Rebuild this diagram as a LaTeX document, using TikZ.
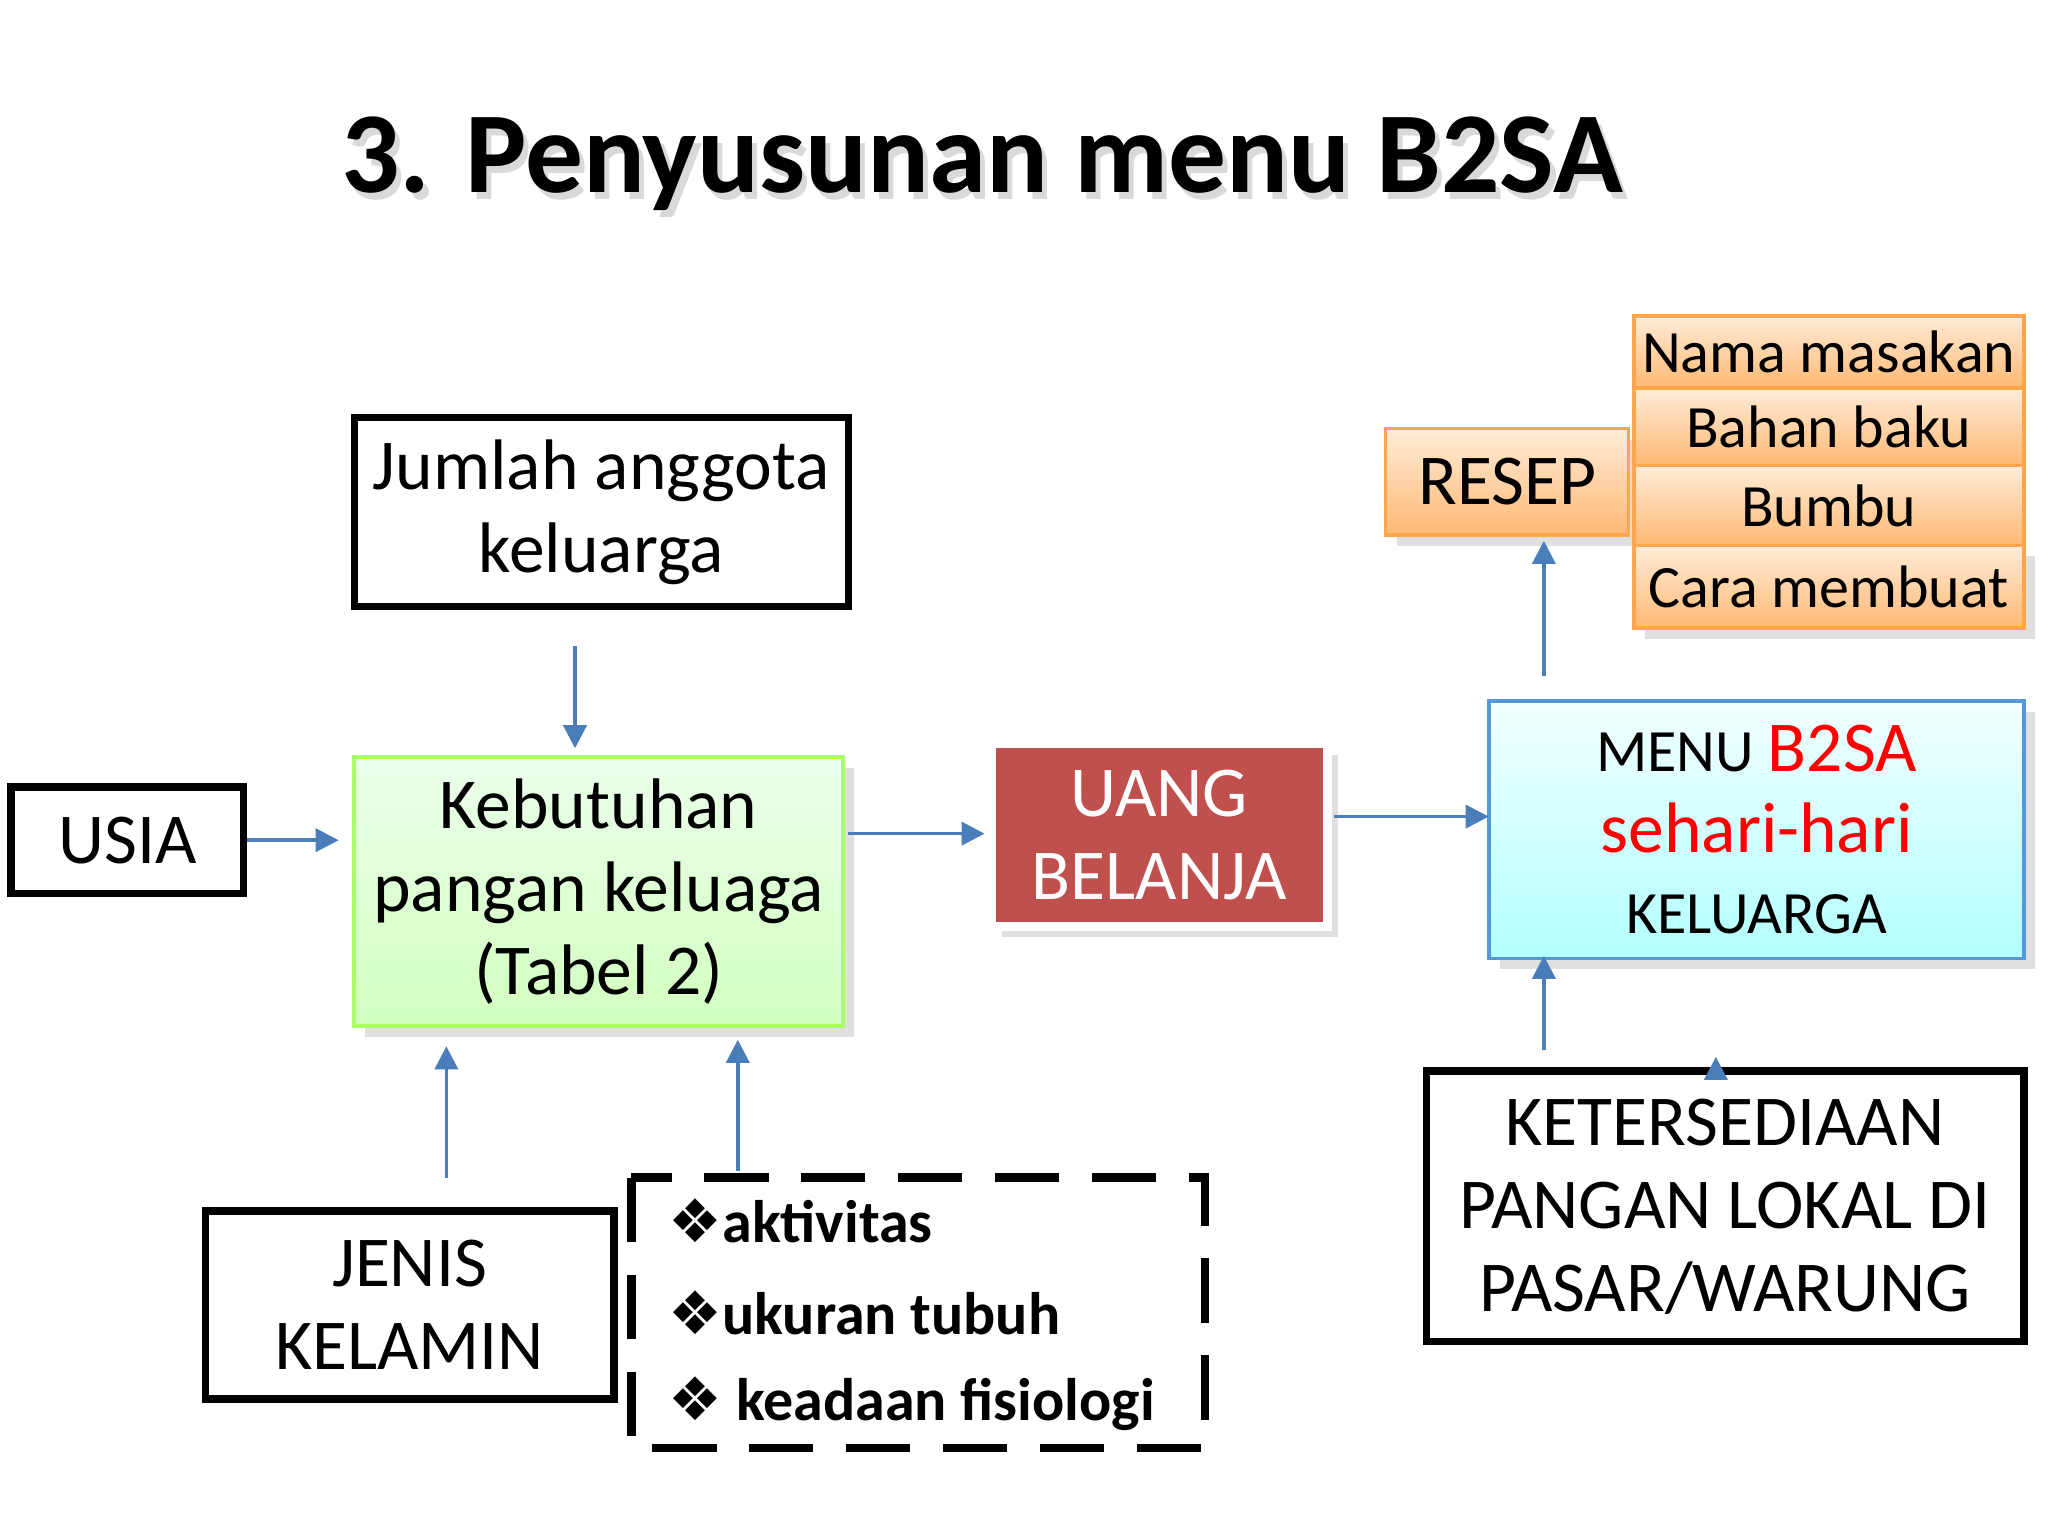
\documentclass[tikz,border=0pt]{standalone}
\usepackage{fontspec}
\setmainfont{Carlito}
\newfontfamily\symf{DejaVu Sans}
\usetikzlibrary{arrows.meta,shadows}
\definecolor{arr}{HTML}{4A7EBB}
\definecolor{uang}{HTML}{C0504D}
\tikzset{
 big/.style={font=\fontsize{15.5}{18}\selectfont},
 bbox/.style={draw=black,line width=1.6pt,align=center,inner sep=0pt,big},
 con/.style={draw=arr,line width=0.8pt,-{Triangle[length=5pt,width=5pt]}},
 orng/.style={draw=orange!70!white,line width=0.8pt,top color=orange!15,bottom color=orange!55,align=center,inner sep=0pt,font=\fontsize{13}{15}\selectfont},
 item/.style={anchor=west,font=\bfseries\fontsize{13}{15}\selectfont},
}
\begin{document}
\begin{tikzpicture}[x=0.01cm,y=-0.01cm]
\useasboundingbox (0,0) rectangle (1560,1170);
\node[font=\bfseries\fontsize{25}{30}\selectfont,text=black!15] at (752,130) {3. Penyusunan menu B2SA};
\node[font=\bfseries\fontsize{25}{30}\selectfont] (title) at (748,125) {3. Penyusunan menu B2SA};
\node[bbox,minimum width=3.76cm,minimum height=1.44cm] (jml) at (458,390) {Jumlah anggota\\keluarga};
\node[bbox,minimum width=1.77cm,minimum height=0.81cm] (usia) at (97,640) {USIA};
\node[draw=green!40!lime!60,line width=0.8pt,top color=green!8!white,bottom color=lime!40!green!25,minimum width=3.72cm,minimum height=2.05cm,align=center,inner sep=0pt,big,drop shadow={opacity=0.25}] (keb) at (456,679) {Kebutuhan\\pangan keluaga\\(Tabel 2)};
\node[fill=uang,draw=white,line width=2pt,text=white,minimum width=2.56cm,minimum height=1.39cm,align=center,inner sep=0pt,big,drop shadow={opacity=0.25}] (uang) at (883,636) {UANG\\BELANJA};
\node[draw=cyan!60!blue!70,line width=0.8pt,top color=cyan!5,bottom color=cyan!30,minimum width=4.07cm,minimum height=1.96cm,align=center,inner sep=0pt,font=\fontsize{13}{17.5}\selectfont,drop shadow={opacity=0.25}] (menu) at (1338,632) {MENU {\fontsize{15.5}{17.5}\selectfont\color{red}B2SA}\\{\fontsize{15.5}{17.5}\selectfont\color{red}sehari-hari}\\KELUARGA};
\node[orng,minimum width=1.85cm,minimum height=0.81cm,big,drop shadow={opacity=0.25}] (resep) at (1148,367) {RESEP};
\node[orng,minimum width=2.97cm,minimum height=0.55cm] (r1) at (1393,268) {Nama masakan};
\node[orng,minimum width=2.97cm,minimum height=0.59cm] (r2) at (1393,325) {Bahan baku};
\node[orng,minimum width=2.97cm,minimum height=0.61cm] (r3) at (1393,385) {Bumbu};
\node[orng,minimum width=2.97cm,minimum height=0.63cm,drop shadow={opacity=0.25}] (r4) at (1393,447) {Cara membuat};
\node[bbox,minimum width=4.55cm,minimum height=2.06cm] (ket) at (1314,919) {KETERSEDIAAN\\PANGAN LOKAL DI\\PASAR/WARUNG};
\node[bbox,minimum width=3.11cm,minimum height=1.43cm] (jenis) at (312,994) {JENIS\\KELAMIN};
\draw[line width=1.8pt,dash pattern=on 14pt off 7pt] (481,897) rectangle (918,1103);
\node[item] (a1) at (497,930) {{\symf\char"2756}aktivitas};
\node[item] (a2) at (497,1000) {{\symf\char"2756}ukuran tubuh};
\node[item] (a3) at (497,1069) {{\symf\char"2756} keadaan fisiologi};
\coordinate (j1) at (438,492); \coordinate (j2) at (438,570);
\coordinate (u1) at (188,640); \coordinate (u2) at (258,640);
\coordinate (k1) at (646,635); \coordinate (k2) at (750,635);
\coordinate (b1) at (1016,622); \coordinate (b2) at (1134,622);
\coordinate (m1) at (1176,515); \coordinate (m2) at (1176,412);
\coordinate (t1) at (1176,800); \coordinate (t2) at (1176,728);
\coordinate (g1) at (340,897); \coordinate (g2) at (340,797);
\coordinate (d1) at (562,892); \coordinate (d2) at (562,792);
\coordinate (s1) at (1307,816); \coordinate (s2) at (1307,805);
\foreach \a/\b in {j1/j2,u1/u2,k1/k2,b1/b2,m1/m2,t1/t2,g1/g2,d1/d2,s1/s2} \draw[con] (\a) -- (\b);
\end{tikzpicture}
\end{document}
